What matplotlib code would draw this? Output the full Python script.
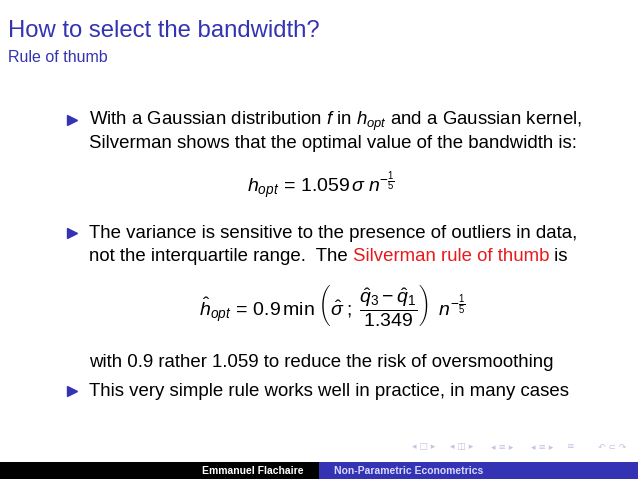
import matplotlib
matplotlib.use("Agg")
import matplotlib.pyplot as plt

plt.rcParams["font.family"] = ["Liberation Sans", "DejaVu Sans"]
plt.rcParams["mathtext.fontset"] = "custom"
plt.rcParams["mathtext.rm"] = "Liberation Sans"
plt.rcParams["mathtext.it"] = "Liberation Sans:italic"
plt.rcParams["mathtext.bf"] = "Liberation Sans:bold"

BLUE = "#3333b3"
RED = "#e8191e"

title = "How to select the bandwidth?"
subtitle = "Rule of thumb"

bullet1 = [
    [("With a Gaussian distribution $f$ in $h_{opt}$ and a Gaussian kernel,", "black")],
    [("Silverman shows that the optimal value of the bandwidth is:", "black")],
]
formula1 = r"$h_{opt}\, =\, 1.059\,\sigma\;n^{-\frac{1}{5}}$"

bullet2 = [
    [("The variance is sensitive to the presence of outliers in data,", "black")],
    [("not the interquartile range.  The ", "black"),
     ("Silverman rule of thumb", RED),
     (" is", "black")],
]
formula2 = (r"$\hat{h}_{opt}\, =\, 0.9\,\min\;\left(\hat{\sigma}\;;\;"
            r"\dfrac{\hat{q}_3 - \hat{q}_1}{1.349}\right)\;\;n^{-\frac{1}{5}}$")
after_formula2 = "with 0.9 rather 1.059 to reduce the risk of oversmoothing"
bullet3 = "This very simple rule works well in practice, in many cases"

footer_author = "Emmanuel Flachaire"
footer_title = "Non-Parametric Econometrics"
nav_symbols = ["◂ □ ▸", "◂ ◫ ▸", "◂ ≡ ▸", "◂ ≡ ▸", "≡", "↶ ⊂ ↷"]
nav_x = [424, 462, 502, 542, 570, 612]

W, H = 638, 479
fig = plt.figure(figsize=(W / 100, H / 100), dpi=100)
ax = fig.add_axes([0, 0, 1, 1])
ax.set_xlim(0, W)
ax.set_ylim(H, 0)
ax.axis("off")
fig.canvas.draw()
renderer = fig.canvas.get_renderer()

BODY = 13.4


def runs(x, y, parts, size=BODY):
    # draw text pieces side by side, each with its own colour
    for txt, col in parts:
        t = ax.text(x, y, txt, fontsize=size, color=col, va="baseline", ha="left")
        bb = t.get_window_extent(renderer=renderer)
        x += bb.width


def bullet(y):
    ax.plot([72], [y - 5], marker=">", color=BLUE, markersize=6.5, mec=BLUE)


# header
ax.text(8, 37, title, fontsize=17.2, color=BLUE, va="baseline")
ax.text(8, 62, subtitle, fontsize=11.5, color=BLUE, va="baseline")

# body
bullet(125)
for i, line in enumerate(bullet1):
    runs(89, 125 + i * 23, line)
ax.text(321, 192, formula1, fontsize=14, ha="center", va="baseline")

bullet(238)
for i, line in enumerate(bullet2):
    runs(89, 238 + i * 23, line)
ax.text(332, 306, formula2, fontsize=14, ha="center", va="center")

runs(89, 367, [(after_formula2, "black")])
bullet(396)
runs(89, 396, [(bullet3, "black")])

# navigation symbols
for s, x in zip(nav_symbols, nav_x):
    ax.text(x, 447, s, fontsize=6.5, color="#c4c4e2", ha="center", va="center",
            family=["DejaVu Sans"])

# footer
ax.add_patch(plt.Rectangle((0, 462), 319, 17, color="black", lw=0))
ax.add_patch(plt.Rectangle((319, 462), 319, 17, color=BLUE, lw=0))
ax.text(303, 470.5, footer_author, fontsize=7.5, color="white", weight="bold",
        ha="right", va="center")
ax.text(334, 470.5, footer_title, fontsize=7.5, color="#d8d8ff", weight="bold",
        ha="left", va="center")

fig.savefig("out.png", dpi=100)
